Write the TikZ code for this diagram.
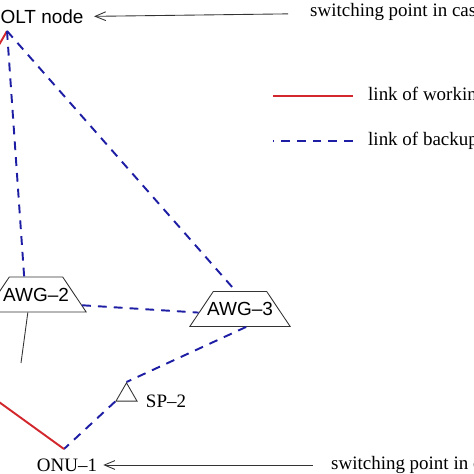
\documentclass[tikz,border=0pt]{standalone}
\usepackage{fontspec}
\setmainfont{Liberation Serif}
\setsansfont{Liberation Sans}
\usetikzlibrary{positioning, arrows.meta, calc, shapes.geometric}

\definecolor{workred}{RGB}{210,40,45}
\definecolor{backblue}{RGB}{30,30,165}

\begin{document}
\begin{tikzpicture}[
    x=0.02cm, y=-0.02cm,
    font=\fontsize{10.8}{13}\selectfont,
    working/.style={draw=workred, line width=1.1pt},
    backup/.style={draw=backblue, line width=1.1pt, dash pattern=on 5pt off 4pt},
    plain/.style={draw=black!80, line width=0.5pt},
    pointer/.style={plain, -{Straight Barb[length=6pt,width=5pt]}},
    awg/.style={trapezium, trapezium left angle=47, trapezium right angle=47,
        trapezium stretches body, draw=black!80, line width=0.5pt,
        minimum height=0.7cm, inner xsep=-3.5pt,
        font=\fontsize{10.8}{13}\sffamily},
    splitter/.style={regular polygon, regular polygon sides=3, draw=black!80,
        line width=0.5pt, minimum size=0.485cm, inner sep=0pt}
]

% frame
\useasboundingbox (0,0) rectangle (474,474);
\clip (0,0) rectangle (474,474);

% network nodes
\node[font=\fontsize{10.8}{13}\sffamily] (olt) at (42,17) {OLT node};
\coordinate (oltpt) at (7,31);
\node[awg] (awg2) at (36,294.5) {AWG--2};
\node[awg] (awg3) at (240,309) {AWG--3};
\node[splitter] (sp2) at (126.5,395) {};
\node[right=0.04cm of sp2.corner 3] (sp2label) {SP--2};
\coordinate (onupt) at (64,449);
\node (onu) at (67,465) {ONU--1};

% free ends
\coordinate (offtop) at (-12,64);
\coordinate (offbot) at (-30,381);
\coordinate (drop) at (21,363);

% switching points
\node[anchor=west] (swtop) at (304,12) {switching point in case of failure};
\node[anchor=west] (swbot) at (325,465) {switching point in case of failure};
\draw[pointer, shorten <=9pt, shorten >=2.5pt] (swtop) -- (olt);
\draw[pointer, shorten <=7pt] (swbot) -- (onu);

% legend
\node[anchor=base west] (legwork) at (362,100) {link of working path};
\node[anchor=base west] (legback) at (362,145) {link of backup path};
\draw[working] ($(legwork.base west)+(-9,-4)$) -- ++(-80,0);
\draw[backup] ($(legback.base west)+(-9,-4)$) -- ++(-80,0);

% links
\draw[working] (oltpt) -- (offtop);
\draw[backup] (oltpt) -- ($(awg2.top left corner)!0.28!(awg2.top right corner)$);
\draw[backup] (oltpt) -- ($(awg3.top left corner)!0.42!(awg3.top right corner)$);
\draw[backup] ($(awg2.top right corner)!0.8!(awg2.bottom right corner)$)
    -- ($(awg3.top left corner)!0.6!(awg3.bottom left corner)$);
\draw[backup] ($(awg3.bottom left corner)!0.56!(awg3.bottom right corner)$) -- (sp2.corner 1);
\draw[backup] (sp2.corner 2) -- (onupt);
\draw[working] (offbot) -- (onupt);
\draw[plain] ($(awg2.bottom left corner)!0.42!(awg2.bottom right corner)$) -- (drop);

\end{tikzpicture}
\end{document}
